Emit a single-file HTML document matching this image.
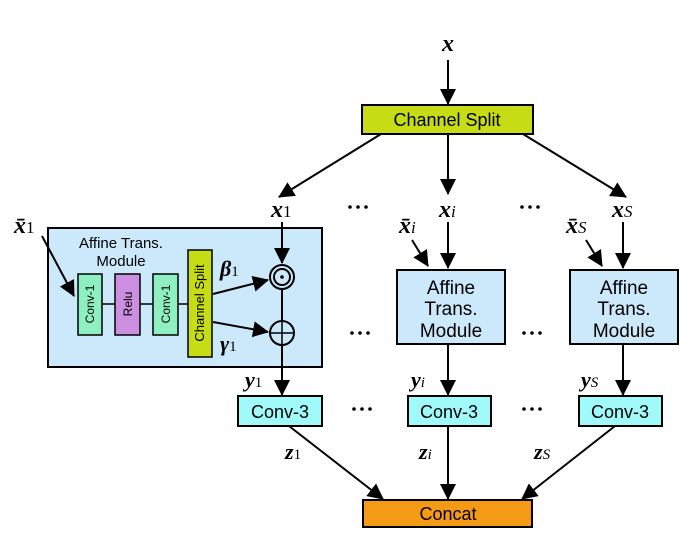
<!DOCTYPE html>
<html><head><style>body{margin:0;background:#fff}svg{display:block}
text{font-family:"Liberation Sans",sans-serif}
.m{font-family:"Liberation Serif",serif;font-style:italic;font-weight:bold}
</style></head><body>
<svg width="691" height="539" viewBox="0 0 691 539" xmlns="http://www.w3.org/2000/svg">
<defs>
<marker id="b" markerWidth="16" markerHeight="16" refX="15" refY="8" orient="auto" markerUnits="userSpaceOnUse" viewBox="0 0 16 16"><path d="M0,0 L16,8 L0,16z" fill="#000"/></marker>
<g id="d"><circle cx="-8" cy="0" r="1.8"/><circle cx="0" cy="0" r="1.8"/><circle cx="8" cy="0" r="1.8"/></g></defs>
<g stroke="#000" stroke-width="2" fill="none">
<line x1="448" y1="60" x2="448" y2="104" marker-end="url(#b)"/>
<line x1="381" y1="134" x2="279" y2="197" marker-end="url(#b)"/>
<line x1="448" y1="134" x2="448" y2="194" marker-end="url(#b)"/>
<line x1="523" y1="134" x2="626" y2="197" marker-end="url(#b)"/>
</g>
<rect x="48" y="228" width="274" height="139" fill="#cce8fb" stroke="#000" stroke-width="2"/>
<rect x="362" y="105" width="171" height="29" fill="#c6dc14" stroke="#000" stroke-width="2"/>
<text x="447" y="126" font-size="18" text-anchor="middle">Channel Split</text>
<text class="m" x="448" y="51" font-size="24" text-anchor="middle">x</text>
<text class="m" x="271" y="217" font-size="24">x<tspan font-size="17" font-weight="normal" font-style="normal">1</tspan></text>
<text class="m" x="439" y="217" font-size="24">x<tspan font-size="17" font-weight="normal">i</tspan></text>
<text class="m" x="612" y="217" font-size="24">x<tspan font-size="17" font-weight="normal">S</tspan></text>
<g fill="#000"><use href="#d" x="358" y="207"/><use href="#d" x="530" y="207"/><use href="#d" x="360" y="333"/><use href="#d" x="532" y="333"/><use href="#d" x="362" y="409"/><use href="#d" x="532" y="409"/></g>
<text class="m" x="14" y="233" font-size="24">x̄<tspan font-size="17" font-weight="normal" font-style="normal">1</tspan></text>
<text class="m" x="399" y="233" font-size="24">x̄<tspan font-size="17" font-weight="normal">i</tspan></text>
<text class="m" x="566" y="233" font-size="24">x̄<tspan font-size="17" font-weight="normal">S</tspan></text>
<text x="121" y="248" font-size="15" text-anchor="middle">Affine Trans.</text>
<text x="121" y="266" font-size="15" text-anchor="middle">Module</text>
<g stroke="#000" stroke-width="1.5"><line x1="102" y1="304" x2="188" y2="304"/></g>
<rect x="78" y="274" width="24" height="61" fill="#8ef0c0" stroke="#000" stroke-width="1.5"/>
<rect x="115" y="274" width="25" height="61" fill="#cc8ee0" stroke="#000" stroke-width="1.5"/>
<rect x="153" y="274" width="25" height="61" fill="#8ef0c0" stroke="#000" stroke-width="1.5"/>
<rect x="188" y="250" width="24" height="107" fill="#c6dc14" stroke="#000" stroke-width="1.5"/>
<g font-size="12" text-anchor="middle">
<text transform="translate(94,304) rotate(-90)">Conv-1</text>
<text transform="translate(132,304) rotate(-90)">Relu</text>
<text transform="translate(170,304) rotate(-90)">Conv-1</text>
<text transform="translate(204,303) rotate(-90)" font-size="13">Channel Split</text></g>
<g stroke="#000" stroke-width="2" fill="none">
<line x1="42" y1="236" x2="74" y2="296" marker-end="url(#b)"/>
<line x1="213" y1="294" x2="268" y2="280" marker-end="url(#b)"/>
<line x1="213" y1="322" x2="268" y2="332" marker-end="url(#b)"/>
<line x1="282" y1="222" x2="282" y2="263" marker-end="url(#b)"/>
<line x1="282" y1="289" x2="282" y2="321"/>
<line x1="282" y1="345" x2="282" y2="395" marker-end="url(#b)"/>
<circle cx="282" cy="277" r="12"/><circle cx="282" cy="277" r="8"/>
<circle cx="282" cy="333" r="12"/>
<line x1="270" y1="333" x2="294" y2="333" stroke-width="1.5"/><line x1="282" y1="321" x2="282" y2="345" stroke-width="1.5"/>
</g>
<circle cx="282" cy="277" r="1.8" fill="#000"/>
<text class="m" x="220" y="276" font-size="22">β<tspan font-size="15" font-weight="normal" font-style="normal">1</tspan></text>
<text class="m" x="220" y="351" font-size="22">γ<tspan font-size="15" font-weight="normal" font-style="normal">1</tspan></text>
<g stroke="#000" stroke-width="2" fill="none">
<line x1="448" y1="222" x2="448" y2="268" marker-end="url(#b)"/>
<line x1="412" y1="240" x2="428" y2="266" marker-end="url(#b)"/>
<line x1="623" y1="222" x2="623" y2="268" marker-end="url(#b)"/>
<line x1="586" y1="240" x2="602" y2="266" marker-end="url(#b)"/>
<line x1="448" y1="344" x2="448" y2="395" marker-end="url(#b)"/>
<line x1="623" y1="344" x2="623" y2="395" marker-end="url(#b)"/>
<line x1="289" y1="426" x2="383" y2="499" marker-end="url(#b)"/>
<line x1="448" y1="426" x2="448" y2="499" marker-end="url(#b)"/>
<line x1="615" y1="426" x2="522" y2="499" marker-end="url(#b)"/>
</g>
<rect x="397" y="270" width="108" height="74" fill="#cce8fb" stroke="#000" stroke-width="2"/>
<rect x="570" y="270" width="108" height="74" fill="#cce8fb" stroke="#000" stroke-width="2"/>
<g font-size="19" text-anchor="middle">
<text x="451" y="294">Affine</text><text x="451" y="315">Trans.</text><text x="451" y="337">Module</text>
<text x="624" y="294">Affine</text><text x="624" y="315">Trans.</text><text x="624" y="337">Module</text></g>
<text class="m" x="245" y="387" font-size="22">y<tspan font-size="15" font-weight="normal" font-style="normal">1</tspan></text>
<text class="m" x="411" y="387" font-size="22">y<tspan font-size="15" font-weight="normal">i</tspan></text>
<text class="m" x="581" y="387" font-size="22">y<tspan font-size="15" font-weight="normal">S</tspan></text>
<rect x="238" y="396" width="84" height="30" fill="#a0fafa" stroke="#000" stroke-width="2"/>
<rect x="408" y="396" width="83" height="30" fill="#a0fafa" stroke="#000" stroke-width="2"/>
<rect x="579" y="396" width="83" height="30" fill="#a0fafa" stroke="#000" stroke-width="2"/>
<g font-size="18" text-anchor="middle"><text x="280" y="418">Conv-3</text><text x="449" y="418">Conv-3</text><text x="620" y="418">Conv-3</text></g>
<text class="m" x="285" y="459" font-size="22">z<tspan font-size="15" font-weight="normal" font-style="normal">1</tspan></text>
<text class="m" x="419" y="459" font-size="22">z<tspan font-size="15" font-weight="normal">i</tspan></text>
<text class="m" x="534" y="459" font-size="22">z<tspan font-size="15" font-weight="normal">S</tspan></text>
<rect x="363" y="500" width="169" height="27" fill="#f49a14" stroke="#000" stroke-width="2"/>
<text x="448" y="520" font-size="18" text-anchor="middle">Concat</text>
</svg>
</body></html>
